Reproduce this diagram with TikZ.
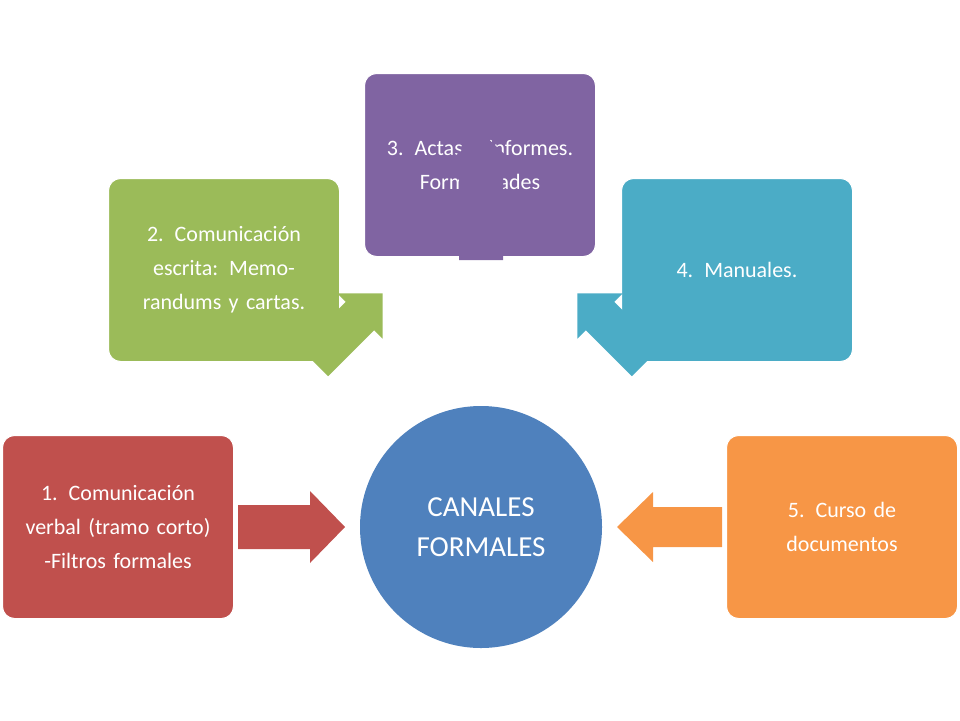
\documentclass[tikz,border=0pt]{standalone}
\usepackage{fontspec}
\setmainfont{Carlito}
\begin{document}
\begin{tikzpicture}[x=1pt,y=-1pt,
  box/.style={draw=white,line width=1pt,rounded corners=12pt,fill=#1,text=white,align=center,
    minimum width=231pt,minimum height=183pt,text width=222pt,inner sep=2pt,
    font=\fontsize{22}{34}\selectfont},
  arr/.style={fill=#1,draw=none}]
\useasboundingbox (0,0) rectangle (960,720);
\definecolor{cr}{HTML}{C0504D}\definecolor{cg}{HTML}{9BBB59}\definecolor{cp}{HTML}{8064A2}
\definecolor{ct}{HTML}{4BACC6}\definecolor{co}{HTML}{F79646}\definecolor{cb}{HTML}{4F81BD}
\newcommand{\blkarrow}[7]{% x y angle length w h hl, color via scope
  \begin{scope}[shift={(#1,#2)},rotate=#3]
  \fill (0,-#5)--(#4-#7,-#5)--(#4-#7,-#6)--(#4,0)--(#4-#7,#6)--(#4-#7,#5)--(0,#5)--cycle;
  \end{scope}}
\node[circle,fill=cb,minimum size=242pt,text=white,align=center,font=\fontsize{29}{40}\selectfont] (c) at (481,527) {CANALES\\FORMALES};
\node[box=cr] (b1) at (118,527) {1. Comunicación verbal (tramo corto) -Filtros formales};
\node[box=cg] (b2) at (224,270) {2. Comunicación escrita: Memorandums y cartas.};
\node[box=cp] (b3) at (480,165) {3. Actas e informes. Formalidades};
\node[box=ct] (b4) at (737,270) {4. Manuales.};
\node[box=co] (b5) at (842,527) {5. Curso de documentos};
\begin{scope}[fill=cr]\blkarrow{238}{527}{0}{107}{22}{36}{35}\end{scope}
\begin{scope}[fill=co]\blkarrow{722}{527}{180}{105}{20}{35}{36}\end{scope}
\begin{scope}[fill=cp]\blkarrow{481}{260}{90}{128}{22}{35}{33}\end{scope}
\begin{scope}[fill=cg]\blkarrow{314}{362}{45}{97}{20}{32}{32}\end{scope}
\begin{scope}[fill=ct]\blkarrow{646}{362}{135}{97}{20}{32}{32}\end{scope}
\end{tikzpicture}
\end{document}
